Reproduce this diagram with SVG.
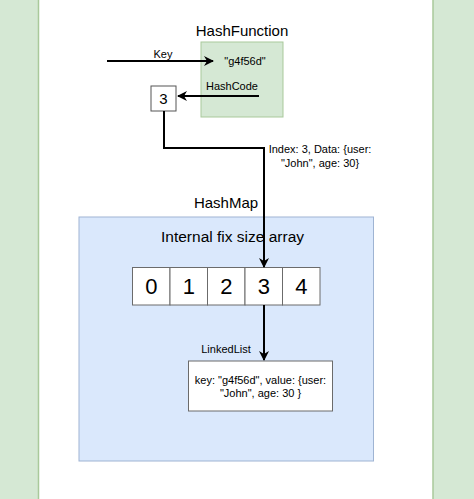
<svg xmlns="http://www.w3.org/2000/svg" width="474" height="499" viewBox="0 0 474 499">
<style>
text{font-family:Helvetica,"Liberation Sans",Arial,sans-serif;fill:#000}
.sm{font-size:11px}
.md{font-size:15px}
.big{font-size:22px}
.strip{fill:#d5e8d4;stroke:#a9c99b;stroke-width:1.5}
.cell{fill:#fff;stroke:#6b6b6b;stroke-width:1}
.edge{fill:none;stroke:#000;stroke-width:2}
</style>
<defs>
<marker id="ah" viewBox="0 0 10 10" refX="9" refY="5" markerWidth="5" markerHeight="5" orient="auto" markerUnits="strokeWidth">
<path d="M0,0 L10,5 L0,10 L3,5 Z" fill="#000"/>
</marker>
</defs>
<rect width="474" height="499" fill="#fff"/>
<g id="strip-left"><rect class="strip" x="-2" y="-2" width="40.5" height="503"/></g>
<g id="strip-right"><rect class="strip" x="433" y="-2" width="43" height="503"/></g>

<g id="hashfunction">
<text class="md" x="242" y="36" text-anchor="middle">HashFunction</text>
<rect x="201" y="42" width="82" height="75" fill="#d5e8d4" stroke="#a9c99b" stroke-width="1"/>
<text class="sm" x="245" y="65" text-anchor="middle">"g4f56d"</text>
<text class="sm" x="232" y="90" text-anchor="middle">HashCode</text>
</g>

<g id="hashcode-box">
<rect x="151" y="86" width="25" height="25" fill="#fff" stroke="#555" stroke-width="1"/>
<text class="md" x="163.5" y="104" text-anchor="middle">3</text>
</g>

<g id="hashmap">
<text class="md" x="226" y="208" text-anchor="middle">HashMap</text>
<rect x="79" y="217" width="294.5" height="244" fill="#dae8fc" stroke="#9fb4d3" stroke-width="1"/>
<text x="232.5" y="242" text-anchor="middle" style="font-size:15.5px">Internal fix size array</text>
</g>

<g id="array">
<rect class="cell" x="132.5" y="267.5" width="37.5" height="37.5"/>
<rect class="cell" x="170" y="267.5" width="37.5" height="37.5"/>
<rect class="cell" x="207.5" y="267.5" width="37.5" height="37.5"/>
<rect class="cell" x="245" y="267.5" width="37.5" height="37.5"/>
<rect class="cell" x="282.5" y="267.5" width="37.5" height="37.5"/>
<text class="big" x="151.25" y="294" text-anchor="middle">0</text>
<text class="big" x="188.75" y="294" text-anchor="middle">1</text>
<text class="big" x="226.25" y="294" text-anchor="middle">2</text>
<text class="big" x="263.75" y="294" text-anchor="middle">3</text>
<text class="big" x="301.25" y="294" text-anchor="middle">4</text>
</g>

<g id="linkedlist">
<text class="sm" x="226" y="353" text-anchor="middle">LinkedList</text>
<rect x="188.5" y="361" width="144" height="50" fill="#fff" stroke="#6b6b6b" stroke-width="1"/>
<text class="sm" x="260.5" y="384" text-anchor="middle">key: "g4f56d", value: {user:</text>
<text class="sm" x="260.5" y="397" text-anchor="middle">"John", age: 30 }</text>
</g>

<g id="connectors">
<path class="edge" d="M107,61 L213,61" marker-end="url(#ah)"/>
<text class="sm" x="163" y="58" text-anchor="middle">Key</text>
<path class="edge" d="M259,96 L178,96" marker-end="url(#ah)"/>
<path class="edge" d="M164,111 L164,148 L264,148 L264,267" marker-end="url(#ah)"/>
<text class="sm" x="320" y="153" text-anchor="middle">Index: 3, Data: {user:</text>
<text class="sm" x="320" y="167" text-anchor="middle">"John", age: 30}</text>
<path class="edge" d="M264,305 L264,360" marker-end="url(#ah)"/>
</g>
</svg>
